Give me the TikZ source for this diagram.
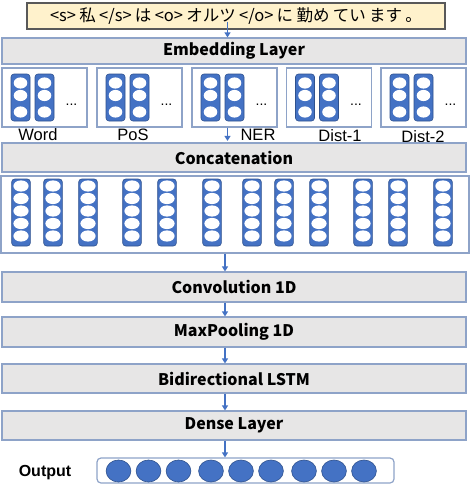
\documentclass[tikz,border=0pt]{standalone}
\usepackage{fontspec}
\setmainfont{Liberation Sans}
\newfontfamily\jp{Noto Sans CJK JP}
\usetikzlibrary{arrows.meta}
\definecolor{barblue}{HTML}{4472C4}
\definecolor{bardark}{HTML}{2F528F}
\definecolor{boxline}{HTML}{8EA3C8}
\definecolor{layerfill}{HTML}{E7E6E6}
\definecolor{sentfill}{HTML}{FFF2CC}
\definecolor{sentline}{HTML}{595959}
\begin{document}
\begin{tikzpicture}[x=1pt,y=-1pt,
  layer/.style={draw=boxline, line width=1.2pt, fill=layerfill, minimum width=464pt,
    inner sep=0pt, font=\jp\bfseries\fontsize{16}{17}\selectfont},
  subbox/.style={draw=boxline, line width=1.2pt, fill=white, inner sep=0pt,
    minimum width=85pt, minimum height=59pt},
  bar/.style={fill=barblue, draw=bardark, line width=0.6pt, rounded corners=3pt},
  hole/.style={fill=white},
  lbl/.style={font=\fontsize{16.5}{17}\selectfont, inner sep=0pt},
  arr/.style={draw=barblue, line width=1.3pt, -{Triangle[width=6pt,length=5pt]}},
  outc/.style={fill=barblue, draw=bardark, line width=0.6pt}
]
\useasboundingbox (0,0) rectangle (474,493);
\fill[white] (0,0) rectangle (474,493);

% sentence
\node[draw=sentline, line width=1.2pt, fill=sentfill, minimum width=418pt, minimum height=26pt,
  inner sep=0pt, font=\jp\fontsize{16.5}{17}\selectfont] (sent) at (236,16)
  {\spaceskip=0.2em\relax <s> 私 </s> は <o> オルツ </o> に 勤め てい ます 。};

\coordinate (xa) at (227.5,0);
\coordinate (xb) at (225,0);

% embedding layer
\node[layer, minimum height=26pt] (emb) at (234,51) {Embedding Layer};

% sub boxes
\foreach \i/\cx in {1/44.5, 2/139.5, 3/234.5, 4/329, 5/423.5}{
  \node[subbox] (e\i) at (\cx,97.5) {};
  \foreach \dx in {-24, 0}{
    \filldraw[bar] (\cx+\dx-9.5,74) rectangle (\cx+\dx+9.5,121);
    \foreach \yy in {83, 95.5, 112}{
      \fill[hole] (\cx+\dx,\yy) ellipse [x radius=6.8pt, y radius=5.6pt];
    }
  }
  \node[font=\fontsize{14}{14}\selectfont, inner sep=0pt] (d\i) at (\cx+27,105) {...};
}
\node[lbl] (lw) at (38,135) {Word};
\node[lbl] (lp) at (133,135) {PoS};
\node[lbl] (ln) at (258,135) {NER};
\node[lbl] (l1) at (340,136) {Dist-1};
\node[lbl] (l2) at (423,137) {Dist-2};

% concatenation
\node[layer, minimum height=29pt] (cat) at (234,157.5) {Concatenation};

% vectors box
\node[subbox, minimum width=468pt, minimum height=77pt] (vec) at (235,214.5) {};
\foreach \cx in {21, 53, 88, 132, 167, 212, 252, 284, 319, 363, 398, 443}{
  \filldraw[bar] (\cx-9.3,179) rectangle (\cx+9.3,246);
  \foreach \yy in {186, 198.5, 211, 223.5, 236}{
    \fill[hole] (\cx,\yy) ellipse [x radius=7.6pt, y radius=5.6pt];
  }
}

% layers
\node[layer, minimum height=30pt] (conv) at (234,287) {Convolution 1D};
\node[layer, minimum height=30pt] (pool) at (234,332) {MaxPooling 1D};
\node[layer, minimum height=29pt] (lstm) at (234,378.5) {Bidirectional LSTM};
\node[layer, minimum height=29pt] (dense) at (234,425.5) {Dense Layer};

% output
\node[draw=boxline, line width=1.2pt, rounded corners=4pt, minimum width=297pt,
  minimum height=25pt, inner sep=0pt] (out) at (245.5,470.5) {};
\foreach \cx [count=\k] in {118.5, 148.5, 178.5, 211, 241, 271, 304, 334, 364}{
  \filldraw[outc] (\cx,471) ellipse [x radius=12.4pt, y radius=11pt];
}
\node[font=\bfseries\fontsize{16}{17}\selectfont, inner sep=0pt] (olbl) at (45,473) {Output};

% arrows
\draw[arr] ([yshift=8pt]sent.south -| xa) -- (emb.north -| xa);
\draw[arr] (e3.south -| xa) -- ([yshift=1.5pt]cat.north -| xa);
\draw[arr] (vec.south -| xb) -- (conv.north -| xb);
\draw[arr] (conv.south -| xb) -- (pool.north -| xb);
\draw[arr] (pool.south -| xb) -- (lstm.north -| xb);
\draw[arr] (lstm.south -| xb) -- (dense.north -| xb);
\draw[arr] (dense.south -| xb) -- (out.north -| xb);
\end{tikzpicture}
\end{document}
